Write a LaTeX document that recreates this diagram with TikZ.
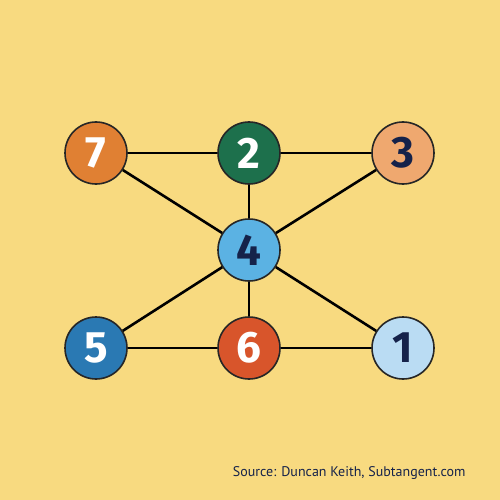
\documentclass[tikz,border=0pt]{standalone}
\usepackage{fontspec}
\setmainfont{Fira Sans}
\newfontfamily\srcfont{PT Sans}
\definecolor{bgyellow}{HTML}{F8DA80}
\definecolor{cOrange}{HTML}{E08033}
\definecolor{cGreen}{HTML}{1D704C}
\definecolor{cPeach}{HTML}{EFA86F}
\definecolor{cSky}{HTML}{5BB2E3}
\definecolor{cBlue}{HTML}{2A79B3}
\definecolor{cRust}{HTML}{D8552B}
\definecolor{cPale}{HTML}{BADCF3}
\definecolor{navy}{HTML}{15224A}

\begin{document}
\begin{tikzpicture}[x=1pt,y=-1pt,line width=2.6pt,
  main node/.style={circle,draw=black!85,line width=1.6pt,minimum size=62pt,inner sep=0pt,font=\fontsize{44}{44}\selectfont\bfseries},
  light/.style={text=navy},
  dark/.style={text=white}]

  \fill[bgyellow] (0,0) rectangle (500,500);
  \useasboundingbox (0,0) rectangle (500,500);

  \node[main node,dark,fill=cOrange] (n7) at (96,153) {7};
  \node[main node,dark,fill=cGreen] (n2) at (249,153) {2};
  \node[main node,light,fill=cPeach] (n3) at (403,153) {3};
  \node[main node,light,fill=cSky] (n4) at (249,250) {4};
  \node[main node,dark,fill=cBlue] (n5) at (96,348) {5};
  \node[main node,dark,fill=cRust] (n6) at (249,348) {6};
  \node[main node,light,fill=cPale] (n1) at (403,348) {1};

  \path[draw=black]
    (n7) edge (n2)
    (n2) edge (n3)
    (n7) edge (n4)
    (n2) edge (n4)
    (n3) edge (n4)
    (n4) edge (n5)
    (n4) edge (n6)
    (n4) edge (n1)
    (n5) edge (n6)
    (n6) edge (n1);

  \node[anchor=base east,text=navy,font=\srcfont\fontsize{14}{14}\selectfont] (src) at (470,476) {Source: Duncan Keith, Subtangent.com};

\end{tikzpicture}
\end{document}
